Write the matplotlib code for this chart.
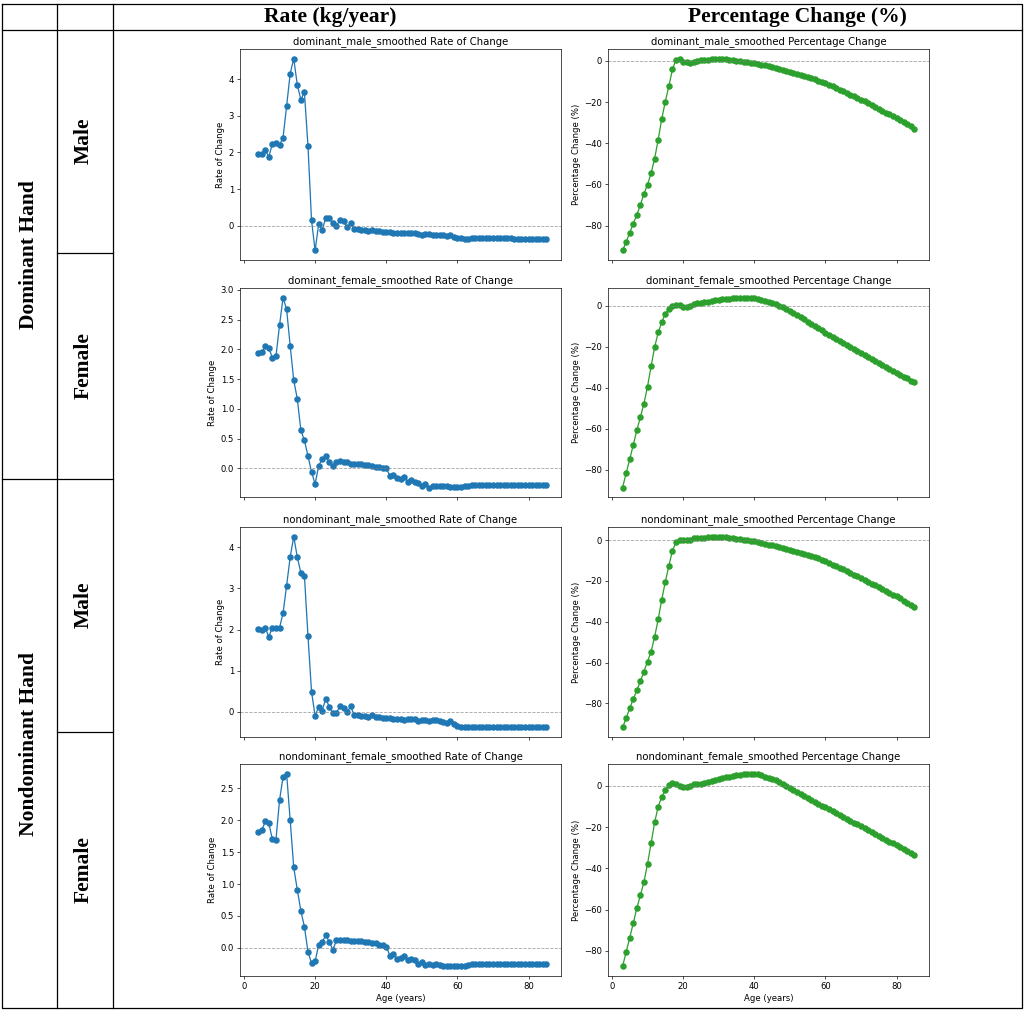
import numpy as np
import matplotlib.pyplot as plt

# ages (years)
rate_ages = list(range(4, 86))
pct_ages = list(range(3, 86))

# rate of change (kg/year), ages 4..85
dom_male_rate = [1.95, 1.95, 2.07, 1.88, 2.24, 2.27, 2.20, 2.41, 3.27, 4.16, 4.57, 3.85, 3.45, 3.65, 2.18,
                 0.14, -0.68, 0.03, -0.12, 0.21, 0.20, 0.07, 0.00, 0.15, 0.12, -0.05, 0.06, -0.10,
                 -0.10, -0.12, -0.13, -0.15, -0.11, -0.15, -0.16, -0.17, -0.17, -0.18, -0.19, -0.20,
                 -0.21, -0.21, -0.20, -0.20, -0.21, -0.22, -0.25, -0.24, -0.24, -0.25, -0.26, -0.26,
                 -0.27, -0.29, -0.27, -0.32, -0.34, -0.35, -0.36, -0.36, -0.35, -0.35, -0.35, -0.35,
                 -0.35, -0.35, -0.35, -0.35, -0.35, -0.35, -0.35, -0.35, -0.37, -0.37, -0.37, -0.37,
                 -0.37, -0.37, -0.37, -0.37, -0.37, -0.37]
dom_female_rate = [1.93, 1.95, 2.05, 2.02, 1.86, 1.88, 2.40, 2.87, 2.67, 2.06, 1.48, 1.17, 0.64, 0.47, 0.21,
                   -0.06, -0.26, 0.04, 0.16, 0.21, 0.10, 0.04, 0.10, 0.12, 0.11, 0.10, 0.08, 0.07,
                   0.08, 0.07, 0.06, 0.05, 0.04, 0.03, 0.02, 0.01, 0.00, -0.12, -0.11, -0.16, -0.17,
                   -0.15, -0.22, -0.20, -0.23, -0.24, -0.29, -0.26, -0.32, -0.29, -0.30, -0.29, -0.30,
                   -0.30, -0.31, -0.31, -0.31, -0.31, -0.30, -0.29, -0.28, -0.28, -0.28, -0.28, -0.28,
                   -0.28, -0.28, -0.28, -0.28, -0.28, -0.28, -0.28, -0.28, -0.28, -0.28, -0.28, -0.28,
                   -0.28, -0.28, -0.28, -0.28, -0.28]
nondom_male_rate = [2.01, 2.00, 2.03, 1.83, 2.04, 2.04, 2.04, 2.40, 3.07, 3.76, 4.26, 3.76, 3.38, 3.31, 1.84,
                    0.49, -0.10, 0.12, 0.03, 0.32, 0.12, -0.04, -0.02, 0.13, 0.09, -0.01, 0.13, -0.08,
                    -0.08, -0.09, -0.10, -0.12, -0.07, -0.12, -0.13, -0.14, -0.15, -0.16, -0.17, -0.18,
                    -0.18, -0.19, -0.18, -0.18, -0.17, -0.22, -0.21, -0.19, -0.22, -0.20, -0.21, -0.23,
                    -0.25, -0.28, -0.23, -0.30, -0.35, -0.36, -0.36, -0.36, -0.36, -0.36, -0.36, -0.36,
                    -0.36, -0.36, -0.36, -0.36, -0.36, -0.36, -0.36, -0.36, -0.36, -0.36, -0.36, -0.36,
                    -0.36, -0.38, -0.38, -0.38, -0.38, -0.38]
nondom_female_rate = [1.81, 1.84, 1.98, 1.95, 1.70, 1.69, 2.31, 2.68, 2.73, 2.00, 1.26, 0.91, 0.58, 0.33, -0.06,
                      -0.24, -0.21, 0.04, 0.09, 0.20, 0.09, -0.03, 0.12, 0.13, 0.13, 0.12, 0.10, 0.10,
                      0.10, 0.10, 0.09, 0.09, 0.08, 0.07, 0.05, 0.04, 0.02, -0.12, -0.10, -0.17, -0.16,
                      -0.13, -0.19, -0.17, -0.19, -0.25, -0.22, -0.27, -0.25, -0.27, -0.26, -0.27, -0.28,
                      -0.29, -0.28, -0.28, -0.29, -0.29, -0.28, -0.27, -0.25, -0.25, -0.25, -0.25, -0.25,
                      -0.25, -0.25, -0.25, -0.25, -0.25, -0.25, -0.25, -0.25, -0.25, -0.25, -0.25, -0.25,
                      -0.25, -0.25, -0.25, -0.25, -0.25]

# percentage change (%), ages 3..85
dom_male_pct = [-92.1, -88.1, -83.4, -79.1, -74.9, -69.9, -64.7, -60.1, -54.7, -47.5, -38.3, -28.2, -19.8,
                -12.3, -4.2, 0.5, 1.1, -0.7, -0.6, -0.8, -0.4, 0.0, 0.2, 0.3, 0.6, 0.8, 0.9, 1.0, 0.9,
                0.7, 0.5, 0.3, 0.0, -0.2, -0.4, -0.7, -0.9, -1.2, -1.5, -1.9, -2.2, -2.6, -3.0, -3.4,
                -3.8, -4.3, -4.7, -5.2, -5.7, -6.2, -6.7, -7.3, -7.8, -8.4, -9.0, -9.6, -10.1, -10.8,
                -11.6, -12.4, -13.2, -14.0, -14.8, -15.6, -16.4, -17.2, -18.0, -18.8, -19.7, -20.6,
                -21.5, -22.4, -23.3, -24.2, -25.1, -26.0, -26.9, -27.8, -28.8, -29.8, -30.8, -31.8, -32.9]
dom_female_pct = [-88.8, -81.8, -75.0, -68.0, -60.8, -54.4, -47.8, -39.5, -29.6, -20.2, -13.0, -8.0, -3.9,
                  -1.7, -0.1, 0.6, 0.5, -0.5, -0.4, 0.1, 0.8, 1.2, 1.4, 1.7, 2.1, 2.5, 2.8, 3.0, 3.2,
                  3.5, 3.6, 3.8, 3.9, 4.0, 4.0, 4.1, 4.0, 4.0, 3.6, 3.1, 2.6, 2.0, 1.5, 0.8, 0.1, -0.7,
                  -1.6, -2.6, -3.5, -4.6, -5.6, -6.6, -7.7, -8.7, -9.8, -10.9, -12.0, -13.1, -14.1,
                  -15.1, -16.1, -17.1, -18.1, -19.1, -20.1, -21.1, -22.1, -23.1, -24.1, -25.0, -26.0,
                  -27.0, -28.0, -29.0, -29.9, -30.9, -31.8, -32.7, -33.6, -34.6, -35.5, -36.5, -37.4]
nondom_male_pct = [-91.8, -87.3, -82.4, -77.9, -73.7, -69.2, -64.4, -59.5, -54.7, -47.4, -38.9, -29.2, -20.5,
                   -12.7, -5.2, -1.1, 0.0, -0.2, 0.1, 0.2, 0.8, 1.0, 1.0, 1.0, 1.3, 1.5, 1.5, 1.7, 1.5,
                   1.3, 1.1, 0.9, 0.6, 0.5, 0.2, -0.1, -0.4, -0.7, -1.0, -1.4, -1.8, -2.2, -2.6, -3.0,
                   -3.4, -3.8, -4.3, -4.8, -5.2, -5.7, -6.2, -6.7, -7.2, -7.8, -8.4, -8.9, -9.6, -10.4,
                   -11.2, -12.0, -12.8, -13.6, -14.4, -15.2, -16.1, -16.9, -17.8, -18.7, -19.6, -20.4,
                   -21.3, -22.2, -23.1, -24.0, -24.9, -25.8, -26.7, -27.6, -28.6, -29.7, -30.7, -31.8, -32.9]
nondom_female_pct = [-87.6, -80.6, -73.8, -66.6, -59.3, -53.1, -46.6, -37.9, -27.9, -17.7, -10.0, -5.3, -2.1,
                     0.6, 1.6, 1.1, 0.2, -0.5, -0.3, 0.1, 0.9, 1.2, 1.1, 1.6, 2.1, 2.6, 3.0, 3.4, 3.8,
                     4.2, 4.5, 4.9, 5.2, 5.5, 5.7, 5.9, 6.0, 6.0, 5.6, 5.1, 4.5, 3.9, 3.4, 2.7, 1.9, 1.1,
                     0.2, -0.8, -1.8, -2.8, -3.8, -4.8, -5.8, -6.8, -7.8, -8.7, -9.6, -10.4, -11.3, -12.2,
                     -13.2, -14.1, -15.0, -15.9, -16.8, -17.8, -18.7, -19.6, -20.5, -21.4, -22.4, -23.3,
                     -24.2, -25.1, -26.1, -27.0, -27.9, -28.8, -29.7, -30.6, -31.6, -32.5, -33.4]

names = ["dominant_male_smoothed", "dominant_female_smoothed",
         "nondominant_male_smoothed", "nondominant_female_smoothed"]
rates = [dom_male_rate, dom_female_rate, nondom_male_rate, nondom_female_rate]
pcts = [dom_male_pct, dom_female_pct, nondom_male_pct, nondom_female_pct]

col_headers = ["Rate (kg/year)", "Percentage Change (%)"]
hand_labels = ["Dominant Hand", "Nondominant Hand"]
sex_labels = ["Male", "Female", "Male", "Female"]

W, H = 1024, 1010
fig = plt.figure(figsize=(W / 100, H / 100), dpi=100)

# table frame drawn in pixel coords
bg = fig.add_axes([0, 0, 1, 1])
bg.set_xlim(0, W)
bg.set_ylim(H, 0)
bg.axis("off")
lk = dict(color="black", lw=0.9)
bg.plot([2, 1022, 1022, 2, 2], [4, 4, 1008, 1008, 4], **lk)
bg.plot([57, 57], [4, 1008], **lk)
bg.plot([113, 113], [4, 1008], **lk)
bg.plot([2, 1022], [30, 30], **lk)
bg.plot([2, 113], [479, 479], **lk)
bg.plot([57, 113], [253, 253], **lk)
bg.plot([57, 113], [732, 732], **lk)

serif = dict(family="Liberation Serif", weight="bold", fontsize=15.5, ha="center", va="center")
bg.text(330, 17, col_headers[0], **serif)
bg.text(797, 17, col_headers[1], **serif)
bg.text(29, 255, hand_labels[0], rotation=90, **serif)
bg.text(29, 744, hand_labels[1], rotation=90, **serif)
for yc, lab in zip([141, 366, 605, 870], sex_labels):
    bg.text(84, yc, lab, rotation=90, **serif)

# subplot boxes in pixels: (top, bottom)
rows_px = [(49, 260), (288, 497), (527, 737), (764, 976)]
cols_px = [(240, 561), (608, 929)]

s = 0.61
plt.rcParams.update({
    "font.size": 10 * s,
    "axes.linewidth": 0.8 * s,
    "xtick.major.width": 0.8 * s,
    "ytick.major.width": 0.8 * s,
    "xtick.major.size": 3.5 * s,
    "ytick.major.size": 3.5 * s,
    "xtick.major.pad": 3.5 * s,
    "ytick.major.pad": 3.5 * s,
})

first = None
for i, (top, bot) in enumerate(rows_px):
    for j, (lft, rgt) in enumerate(cols_px):
        rect = [lft / W, 1 - bot / H, (rgt - lft) / W, (bot - top) / H]
        axe = fig.add_axes(rect, sharex=first)
        if first is None:
            first = axe
        if j == 0:
            axe.plot(rate_ages, rates[i], "o-", color="#1f77b4", lw=1.5 * s, ms=6 * s)
            axe.set_title(f"{names[i]} Rate of Change", fontsize=12 * s, pad=6 * s)
            axe.set_ylabel("Rate of Change", fontsize=10 * s, labelpad=4 * s)
        else:
            axe.plot(pct_ages, pcts[i], "o-", color="#2ca02c", lw=1.5 * s, ms=6 * s)
            axe.set_title(f"{names[i]} Percentage Change", fontsize=12 * s, pad=6 * s)
            axe.set_ylabel("Percentage Change (%)", fontsize=10 * s, labelpad=4 * s)
        axe.axhline(0, color="gray", linestyle="--", lw=1.0 * s, alpha=0.7)
        axe.tick_params(labelsize=10 * s)
        if i == 3:
            axe.set_xlabel("Age (years)", fontsize=10 * s, labelpad=4 * s)
        else:
            axe.tick_params(labelbottom=False)

first.set_xlim(-1.1, 89.1)
fig.savefig("out.png", dpi=100)
